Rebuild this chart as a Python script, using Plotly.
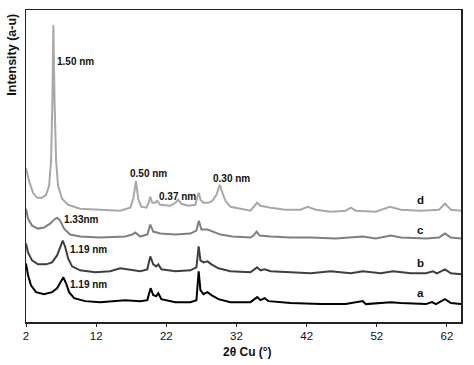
import plotly.graph_objects as go

# ---- data (2theta in degrees, intensity in arbitrary units, offset stacked) ----
tt_d = [2.0, 2.43, 3.0, 3.57, 4.29, 4.86, 5.29, 5.57, 5.76, 5.9, 6.07, 6.29, 6.57, 7.14, 8.0, 9.71,
        12.57, 15.4, 16.86, 17.29, 17.67, 18.0, 18.43, 19.14, 19.43, 19.71, 20.0, 20.43, 20.71, 21.14,
        22.57, 23.29, 23.71, 24.14, 25.14, 26.14, 26.43, 26.64, 26.86, 27.29, 28.0, 28.57, 29.14, 29.61,
        30.0, 30.43, 31.14, 32.57, 34.0, 34.57, 34.93, 35.43, 36.86, 39.0, 41.14, 42.14, 43.3, 45.4,
        47.57, 48.3, 49.0, 51.86, 53.86, 55.43, 58.3, 60.86, 61.71, 62.57, 64.0]
int_d = [155, 142, 130, 125, 125, 128, 137, 162, 222, 299, 222, 162, 137, 124, 118, 114,
         113, 112, 115, 124, 142, 124, 116, 115, 119, 126, 120, 120, 122, 118,
         117, 120, 123, 119, 117, 118, 126, 130, 123, 120, 120, 122, 128, 138,
         130, 122, 116, 114, 112, 117, 120, 117, 115, 113, 113, 116, 113, 111,
         112, 115, 112, 111, 116, 113, 112, 113, 119, 113, 112]

tt_c = [2.0, 2.29, 2.86, 3.71, 4.57, 5.43, 6.0, 6.43, 6.86, 7.43, 8.29, 9.71, 12.57, 16.14, 17.14,
        17.57, 18.29, 19.29, 19.71, 20.14, 21.14, 23.29, 25.43, 26.29, 26.64, 27.0, 27.86, 28.57,
        29.71, 31.43, 34.0, 34.43, 34.86, 35.29, 36.86, 39.71, 42.57, 46.14, 50.0, 51.86, 54.0,
        55.43, 59.0, 60.86, 61.71, 62.57, 64.0]
int_c = [114, 104, 97, 94, 95, 99, 103, 105, 102, 94, 88, 86, 85, 86, 88,
         90, 86, 88, 98, 91, 89, 88, 89, 92, 102, 93, 93, 91,
         88, 86, 85, 87, 91, 87, 86, 85, 85, 84, 86, 84, 87,
         85, 84, 85, 89, 85, 84]

tt_b = [2.0, 2.29, 2.86, 3.71, 4.86, 5.71, 6.43, 6.86, 7.24, 7.57, 8.0, 8.57, 9.71, 11.86, 14.0,
        15.43, 16.57, 18.29, 19.29, 19.71, 20.14, 20.57, 20.86, 21.29, 23.29, 25.43, 26.29, 26.61,
        26.86, 27.29, 27.86, 28.43, 29.43, 31.14, 34.0, 34.57, 34.93, 35.43, 36.0, 36.86, 39.71,
        42.57, 45.43, 48.29, 50.0, 52.57, 54.29, 56.86, 59.0, 60.0, 60.57, 61.71, 62.57, 64.0]
int_b = [79, 70, 62, 58, 58, 60, 67, 76, 82, 76, 64, 56, 52, 50, 51,
         54, 53, 51, 53, 66, 58, 56, 58, 53, 51, 52, 55, 76,
         62, 60, 61, 58, 54, 51, 50, 53, 55, 52, 53, 51, 50,
         49, 51, 49, 51, 49, 51, 49, 49, 51, 49, 53, 49, 48]

tt_a = [2.0, 2.29, 2.71, 3.43, 4.57, 5.71, 6.43, 6.86, 7.33, 7.71, 8.14, 8.86, 10.43, 12.57, 14.71,
        16.14, 18.29, 19.29, 19.76, 20.14, 20.57, 20.86, 21.29, 23.29, 25.43, 26.29, 26.61, 26.86,
        27.29, 27.86, 28.43, 29.43, 31.14, 34.0, 34.57, 34.96, 35.43, 36.0, 36.57, 39.71, 44.0,
        47.57, 50.0, 50.43, 54.0, 55.43, 59.0, 59.86, 60.43, 61.71, 62.57, 64.0]
int_a = [59, 47, 37, 30, 28, 30, 34, 40, 45, 39, 30, 24, 21, 20, 21,
         22, 21, 22, 34, 27, 26, 29, 23, 20, 20, 22, 51, 32,
         28, 30, 27, 23, 20, 20, 23, 25, 22, 24, 21, 19, 18,
         18, 21, 18, 20, 19, 18, 20, 18, 23, 19, 18]

series_names = ["a", "b", "c", "d"]
peak_labels = ["1.50 nm", "0.50 nm", "0.37 nm", "0.30 nm", "1.33nm", "1.19 nm", "1.19 nm"]
x_ticks = [2, 12, 22, 32, 42, 52, 62]

# ---- figure ----
FONT = "Liberation Sans, Arial, sans-serif"
fig = go.Figure()
styles = {"a": "#000000", "b": "#3f3f3f", "c": "#7f7f7f", "d": "#a8a8a8"}
for name, xs, ys in [("a", tt_a, int_a), ("b", tt_b, int_b), ("c", tt_c, int_c), ("d", tt_d, int_d)]:
    fig.add_trace(go.Scatter(x=xs, y=ys, mode="lines", name=name,
                             line=dict(color=styles[name], width=2), showlegend=False))

lab_font = dict(family=FONT, size=10, color="#111")
peak_pos = [(9.0, 262), (19.43, 149), (23.64, 126), (31.36, 144), (9.86, 103), (10.86, 73), (10.86, 38)]
for txt, (px, py) in zip(peak_labels, peak_pos):
    fig.add_annotation(x=px, y=py, xref="x", yref="y", text="<b>%s</b>" % txt, showarrow=False,
                       font=lab_font, xanchor="center", yanchor="middle")

letter_y = {"a": 29, "b": 59, "c": 93, "d": 123}
for n in series_names:
    fig.add_annotation(x=58.29, y=letter_y[n], xref="x", yref="y", text="<b>%s</b>" % n,
                       showarrow=False, font=dict(family=FONT, size=11.5, color="#111"),
                       xanchor="center", yanchor="middle")

# axis titles
fig.add_annotation(x=-0.032, y=0.857, xref="paper", yref="paper", text="<b>Intensity (a-u)</b>",
                   textangle=-90, showarrow=False, xanchor="center", yanchor="middle",
                   font=dict(family=FONT, size=12.5, color="#111"))
fig.add_annotation(x=0.51, y=-0.0955, xref="paper", yref="paper", text="<b>2θ Cu (°)</b>",
                   showarrow=False, xanchor="center", yanchor="middle",
                   font=dict(family=FONT, size=12, color="#111"))

fig.update_layout(
    width=474, height=365,
    margin=dict(l=26, r=13, t=8, b=43),
    paper_bgcolor="white", plot_bgcolor="white",
    font=dict(family=FONT, size=11, color="#111"),
    hovermode=False,
)
fig.update_xaxes(range=[2, 64], tickvals=x_ticks, ticktext=[str(v) for v in x_ticks],
                 showgrid=False, zeroline=False, showline=True, mirror=True,
                 linecolor="#222", linewidth=1.5, ticks="outside", ticklen=3, tickcolor="#222",
                 tickfont=dict(size=11.5, color="#111"))
fig.update_yaxes(range=[0, 314], showticklabels=False, showgrid=False, zeroline=False,
                 showline=True, mirror=True, linecolor="#222", linewidth=1.5, ticks="")

fig.write_html("out.html", config={"displayModeBar": False, "staticPlot": True},
               post_script="document.body.style.margin='0';document.body.style.overflow='hidden';")
